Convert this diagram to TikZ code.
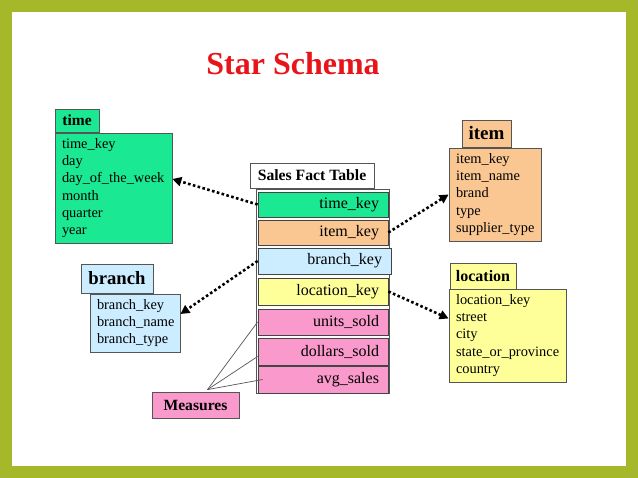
\documentclass[tikz,border=0pt]{standalone}
\usepackage{fontspec}
\setmainfont{Liberation Serif}
\usepackage{tikz}
\usetikzlibrary{positioning, arrows.meta, calc}
\definecolor{slidegreen}{HTML}{A5B82A}
\definecolor{titlered}{HTML}{E8141A}
\definecolor{timegreen}{HTML}{1AE892}
\definecolor{itempeach}{HTML}{FAC792}
\definecolor{branchblue}{HTML}{CCECFF}
\definecolor{locyellow}{HTML}{FFFF99}
\definecolor{measpink}{HTML}{FA99CB}
\definecolor{edgegray}{HTML}{555555}

\begin{document}
\begin{tikzpicture}[
      x=1pt, y=-1pt,
      every node/.style={font=\fontsize{14.4}{17.3}\selectfont, inner sep=0pt},
      hdr/.style={draw=edgegray, line width=0.8pt, align=center},
      tab/.style={draw=edgegray, line width=0.8pt, align=left, inner xsep=7pt},
      row/.style={draw=edgegray!80!black, line width=0.8pt, align=right,
                  inner xsep=9pt, font=\fontsize{16}{16}\selectfont},
      fk/.style={line width=2.6pt, dash pattern=on 2.6pt off 2.4pt,
                 -{Triangle[length=9pt, width=9pt]}},
      meas/.style={edgegray, line width=0.7pt},
    ]
    \fill[slidegreen] (0,0) rectangle (638,478);
    \fill[white] (12,12) rectangle (626,466);

    \node[font=\fontsize{32}{32}\selectfont\bfseries, text=titlered]
      (title) at (293,64) {Star Schema};

    % fact table
    \node[hdr, fill=white, minimum width=124pt, minimum height=25pt,
          font=\fontsize{15.7}{16}\selectfont\bfseries]
      (facthd) at (312,175.5) {Sales Fact Table};
    \node[draw=edgegray, fill=white, line width=0.8pt,
          minimum width=133pt, minimum height=204pt] (fact) at (322.5,291) {};
    \node[row, fill=timegreen,  text width=112pt, minimum height=25pt] (ftime)  at (323,204.5)   {time\_key};
    \node[row, fill=itempeach,  text width=112pt, minimum height=25pt] (fitem)  at (323,232.5)   {item\_key};
    \node[row, fill=branchblue, text width=115pt, minimum height=26pt] (fbranch) at (324.5,261)  {branch\_key};
    \node[row, fill=locyellow,  text width=112pt, minimum height=27pt] (floc)   at (323,291.5)   {location\_key};
    \node[row, fill=measpink,   text width=112pt, minimum height=26pt] (funits) at (323,322)     {units\_sold};
    \node[row, fill=measpink,   text width=112pt, minimum height=27pt] (fdollars) at (323,351.5) {dollars\_sold};
    \node[row, fill=measpink,   text width=112pt, minimum height=27pt] (favg)   at (323,379.5)   {avg\_sales};

    % dimensions
    \node[hdr, fill=timegreen, minimum width=44pt, minimum height=23pt,
          font=\fontsize{15.5}{16}\selectfont\bfseries] (timehd) at (77,120.5) {time};
    \node[tab, fill=timegreen, text width=103pt, minimum height=110pt]
      (timetab) at (113.5,188)
      {time\_key\\day\\day\_of\_the\_week\\month\\quarter\\year};

    \node[hdr, fill=itempeach, minimum width=49pt, minimum height=27pt,
          font=\fontsize{19}{19}\selectfont\bfseries] (itemhd) at (486.5,133.5) {item};
    \node[tab, fill=itempeach, text width=78pt, minimum height=93pt]
      (itemtab) at (495,194.5)
      {item\_key\\item\_name\\brand\\type\\supplier\_type};

    \node[hdr, fill=locyellow, minimum width=66pt, minimum height=26pt,
          font=\fontsize{16}{16}\selectfont\bfseries] (lochd) at (483,276) {location};
    \node[tab, fill=locyellow, text width=103pt, minimum height=93pt]
      (loctab) at (507.5,335.5)
      {location\_key\\street\\city\\state\_or\_province\\country};

    \node[hdr, fill=branchblue, minimum width=72pt, minimum height=29pt,
          font=\fontsize{18.7}{19}\selectfont\bfseries] (brhd) at (117,278.5) {branch};
    \node[tab, fill=branchblue, text width=76pt, minimum height=58pt]
      (brtab) at (135,323)
      {branch\_key\\branch\_name\\branch\_type};

    \node[hdr, fill=measpink, minimum width=87pt, minimum height=26pt,
          font=\fontsize{15.6}{16}\selectfont\bfseries] (measures) at (195.5,405) {Measures};

    \draw[fk] (ftime.west) -- ([yshift=9pt]timetab.east);
    \draw[fk] (fitem.east) -- (itemtab.west);
    \draw[fk] (fbranch.west) -- ([yshift=9pt]brtab.east);
    \draw[fk] (floc.east) -- ([yshift=17pt]loctab.west);

    \coordinate (mp) at ([xshift=12pt, yshift=2pt]measures.north);
    \draw[meas] (mp) -- (funits.west);
    \draw[meas] (mp) -- ([yshift=-5pt]fdollars.west);
    \draw[meas] (mp) -- ([xshift=5pt]favg.west);
  \end{tikzpicture}
\end{document}
